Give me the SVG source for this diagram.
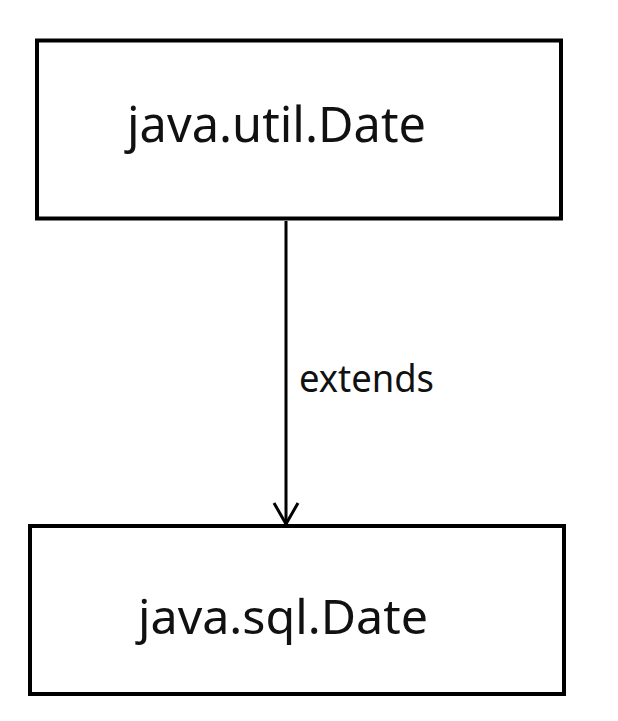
<svg xmlns="http://www.w3.org/2000/svg" width="618" height="721" viewBox="0 0 618 721">
  <style>
    .box { fill: #ffffff; stroke: #000000; stroke-width: 4; }
    .lbl { font-family: "Noto Sans", "Open Sans", sans-serif; fill: #111111; }
    .conn { stroke: #000000; stroke-width: 3; fill: none; }
  </style>
  <defs>
    <marker id="open" markerUnits="userSpaceOnUse" markerWidth="30" markerHeight="30" refX="13" refY="23" orient="auto-start-reverse" viewBox="0 0 26 26">
      <path d="M1 1 L13 23 L25 1" fill="none" stroke="#000" stroke-width="3"/>
    </marker>
  </defs>
  <rect width="618" height="721" fill="#ffffff"/>
  <g id="node-util">
    <rect class="box" x="37" y="40.5" width="524" height="178"/>
    <text class="lbl" x="127" y="142" font-size="49" textLength="299" lengthAdjust="spacingAndGlyphs">java.util.Date</text>
  </g>
  <g id="node-sql">
    <rect class="box" x="30" y="526" width="534" height="168"/>
    <text class="lbl" x="138" y="634" font-size="48" textLength="290" lengthAdjust="spacingAndGlyphs">java.sql.Date</text>
  </g>
  <g id="connectors">
    <line class="conn" x1="286" y1="221" x2="286" y2="526"/>
    <path class="conn" d="M274 503 L286 524 L298 503"/>
    <text class="lbl" x="299" y="392" font-size="38" textLength="135" lengthAdjust="spacingAndGlyphs">extends</text>
  </g>
</svg>
